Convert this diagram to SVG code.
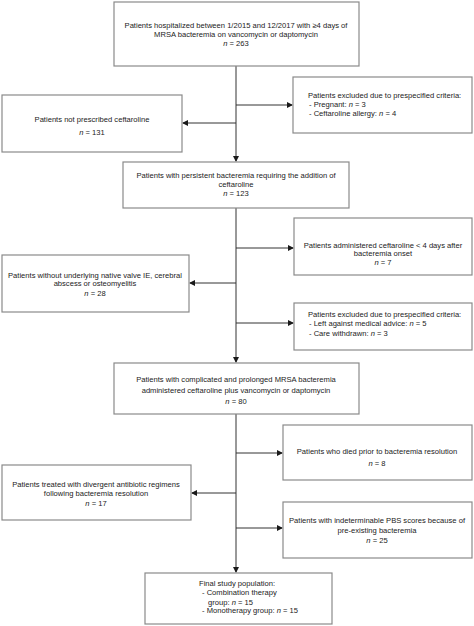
<svg xmlns="http://www.w3.org/2000/svg" width="474" height="626" viewBox="0 0 474 626">
<defs>
<marker id="ah" markerWidth="6" markerHeight="6" refX="5" refY="3" orient="auto" markerUnits="userSpaceOnUse">
<path d="M0,0 L6,3 L0,6 z" fill="#1a1a1a"/>
</marker>
<style>
.box{fill:#fff;stroke:#8a8a8a;stroke-width:1.2}
.t{font-family:"Liberation Sans",Arial,sans-serif;font-size:7.6px;fill:#222}
.c{text-anchor:middle}
.ln{stroke:#333;stroke-width:1;fill:none}
</style>
</defs>
<rect width="474" height="626" fill="#fff"/>
<g id="connectors">
<path class="ln" d="M236,66 V161" marker-end="url(#ah)"/>
<path class="ln" d="M236,208 V362" marker-end="url(#ah)"/>
<path class="ln" d="M236,414 V572" marker-end="url(#ah)"/>
<path class="ln" d="M236,105 H292" marker-end="url(#ah)"/>
<path class="ln" d="M236,123 H183" marker-end="url(#ah)"/>
<path class="ln" d="M236,248 H293" marker-end="url(#ah)"/>
<path class="ln" d="M236,283 H190" marker-end="url(#ah)"/>
<path class="ln" d="M236,323 H293" marker-end="url(#ah)"/>
<path class="ln" d="M236,453 H282" marker-end="url(#ah)"/>
<path class="ln" d="M236,493 H192" marker-end="url(#ah)"/>
<path class="ln" d="M236,528 H282" marker-end="url(#ah)"/>
</g>
<g id="n1">
<rect class="box" x="114" y="2" width="245" height="64"/>
<text class="t c" x="236" y="28">Patients hospitalized between 1/2015 and 12/2017 with ≥4 days of</text>
<text class="t c" x="236" y="37">MRSA bacteremia on vancomycin or daptomycin</text>
<text class="t c" x="236" y="46"><tspan font-style="italic">n</tspan> = 263</text>
</g>
<g id="n2">
<rect class="box" x="293" y="77" width="179" height="56"/>
<text class="t" x="308" y="98">Patients excluded due to prespecified criteria:</text>
<text class="t" x="309" y="107">- Pregnant: <tspan font-style="italic">n</tspan> = 3</text>
<text class="t" x="309" y="116">- Ceftaroline allergy: <tspan font-style="italic">n</tspan> = 4</text>
</g>
<g id="n3">
<rect class="box" x="2" y="95" width="180" height="57"/>
<text class="t c" x="92" y="122">Patients not prescribed ceftaroline</text>
<text class="t c" x="92" y="135"><tspan font-style="italic">n</tspan> = 131</text>
</g>
<g id="n4">
<rect class="box" x="123" y="162" width="226" height="46"/>
<text class="t c" x="236" y="178">Patients with persistent bacteremia requiring the addition of</text>
<text class="t c" x="236" y="187">ceftaroline</text>
<text class="t c" x="236" y="196"><tspan font-style="italic">n</tspan> = 123</text>
</g>
<g id="n5">
<rect class="box" x="294" y="218" width="178" height="57"/>
<text class="t c" x="383" y="248">Patients administered ceftaroline &lt; 4 days after</text>
<text class="t c" x="383" y="256">bacteremia onset</text>
<text class="t c" x="383" y="265"><tspan font-style="italic">n</tspan> = 7</text>
</g>
<g id="n6">
<rect class="box" x="2" y="255" width="187" height="57"/>
<text class="t c" x="95" y="278">Patients without underlying native valve IE, cerebral</text>
<text class="t c" x="95" y="286">abscess or osteomyelitis</text>
<text class="t c" x="95" y="296"><tspan font-style="italic">n</tspan> = 28</text>
</g>
<g id="n7">
<rect class="box" x="294" y="303" width="178" height="47"/>
<text class="t" x="308" y="317">Patients excluded due to prespecified criteria:</text>
<text class="t" x="309" y="326">- Left against medical advice: <tspan font-style="italic">n</tspan> = 5</text>
<text class="t" x="309" y="336">- Care withdrawn: <tspan font-style="italic">n</tspan> = 3</text>
</g>
<g id="n8">
<rect class="box" x="114" y="363" width="245" height="51"/>
<text class="t c" x="236" y="382">Patients with complicated and prolonged MRSA bacteremia</text>
<text class="t c" x="236" y="393">administered ceftaroline plus vancomycin or daptomycin</text>
<text class="t c" x="236" y="404"><tspan font-style="italic">n</tspan> = 80</text>
</g>
<g id="n9">
<rect class="box" x="283" y="425" width="189" height="55"/>
<text class="t c" x="377" y="454">Patients who died prior to bacteremia resolution</text>
<text class="t c" x="377" y="466"><tspan font-style="italic">n</tspan> = 8</text>
</g>
<g id="n10">
<rect class="box" x="2" y="465" width="189" height="55"/>
<text class="t c" x="96" y="487">Patients treated with divergent antibiotic regimens</text>
<text class="t c" x="96" y="496">following bacteremia resolution</text>
<text class="t c" x="96" y="506"><tspan font-style="italic">n</tspan> = 17</text>
</g>
<g id="n11">
<rect class="box" x="283" y="502" width="189" height="56"/>
<text class="t c" x="377" y="523">Patients with indeterminable PBS scores because of</text>
<text class="t c" x="377" y="533">pre-existing bacteremia</text>
<text class="t c" x="377" y="543"><tspan font-style="italic">n</tspan> = 25</text>
</g>
<g id="n12">
<rect class="box" x="145" y="573" width="187" height="51"/>
<text class="t" x="199" y="586">Final study population:</text>
<text class="t" x="202" y="595">- Combination therapy</text>
<text class="t" x="208" y="605">group: <tspan font-style="italic">n</tspan> = 15</text>
<text class="t" x="202" y="613">- Monotherapy group: <tspan font-style="italic">n</tspan> = 15</text>
</g>
</svg>
